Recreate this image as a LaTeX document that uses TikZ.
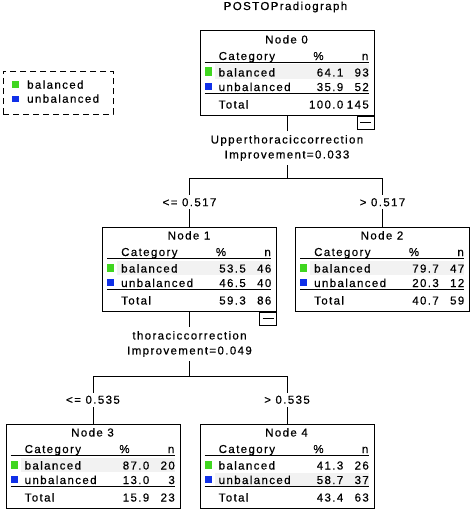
\documentclass[tikz,border=0pt]{standalone}
\usepackage{fontspec}
\setmainfont{Liberation Sans}[LetterSpace=12,FakeBold=0.5]
\usepackage{tikz}
\usetikzlibrary{calc,positioning}

\definecolor{balgreen}{RGB}{64,214,32}
\definecolor{unbblue}{RGB}{16,48,232}
\definecolor{rowgray}{RGB}{242,242,242}

\tikzset{
  treebox/.style={draw,line width=1pt,minimum width=174pt,minimum height=84pt,inner sep=0},
  txt/.style={inner sep=0,font=\fontsize{11.5}{15}\selectfont},
  splitlabel/.style={txt,align=center,inner sep=4pt},
  cutlabel/.style={txt,fill=white,inner sep=3pt},
  collapse/.style={draw,line width=0.8pt,minimum width=17pt,minimum height=13pt,inner sep=0,anchor=north east},
}

% table inside a tree box: #1 box, #2 title, #3/#4 balanced, #5/#6 unbalanced, #7/#8 total, #9 shaded row
\newcommand{\nodetable}[9]{%
  \begin{scope}[shift={(#1.north west)}]
    \fill[rowgray] (15,{19+15*#9}) rectangle (169,{33+15*#9});
    \node[txt,anchor=base] (#1-title) at (87,13) {#2};
    \node[txt,anchor=base west] (#1-cat) at (19,29.5) {Category};
    \node[txt,anchor=base] (#1-pct) at (119,29.5) {\%};
    \node[txt,anchor=base east] (#1-n) at (169,29.5) {n};
    \draw[line width=0.8pt] (5,31.5) -- (169,31.5);
    \fill[balgreen] (5,37) rectangle (12,45);
    \node[txt,anchor=base west] (#1-b) at (19,46) {balanced};
    \node[txt,anchor=base east] (#1-bp) at (144,46) {#3};
    \node[txt,anchor=base east] (#1-bn) at (169.5,46) {#4};
    \fill[unbblue] (5,52) rectangle (12,59);
    \node[txt,anchor=base west] (#1-u) at (19,60.5) {unbalanced};
    \node[txt,anchor=base east] (#1-up) at (144,60.5) {#5};
    \node[txt,anchor=base east] (#1-un) at (169.5,60.5) {#6};
    \draw[line width=1.2pt] (5,63) -- (169,63);
    \node[txt,anchor=base west] (#1-t) at (19,78) {Total};
    \node[txt,anchor=base east] (#1-tp) at (144,78) {#7};
    \node[txt,anchor=base east] (#1-tn) at (169.5,78) {#8};
  \end{scope}}

\begin{document}
\begin{tikzpicture}[x=1pt,y=-1pt]
\useasboundingbox (0,0) rectangle (474,511);

% Title
\node[txt,anchor=base] (title) at (285.5,10) {POSTOPradiograph};

% Legend
\node[draw,line width=0.9pt,dash pattern=on 6pt off 4pt,minimum width=110pt,minimum height=43pt,inner sep=0] (legend) at (58,92.5) {};
\fill[balgreen] (12,81) rectangle (19,88);
\node[txt,anchor=base west] (legend-b) at (27,88.7) {balanced};
\fill[unbblue] (12,95.5) rectangle (19,102);
\node[txt,anchor=base west] (legend-u) at (27,102.7) {unbalanced};

% Tree boxes
\node[treebox] (n0) at (287,73) {};
\node[treebox] (n1) at (189.5,269) {};
\node[treebox] (n2) at (382.5,269) {};
\node[treebox] (n3) at (93,466) {};
\node[treebox] (n4) at (287,466) {};

\nodetable{n0}{Node 0}{64.1}{93}{35.9}{52}{100.0}{145}{1}
\nodetable{n1}{Node 1}{53.5}{46}{46.5}{40}{59.3}{86}{1}
\nodetable{n2}{Node 2}{79.7}{47}{20.3}{12}{40.7}{59}{1}
\nodetable{n3}{Node 3}{87.0}{20}{13.0}{3}{15.9}{23}{1}
\nodetable{n4}{Node 4}{41.3}{26}{58.7}{37}{43.4}{63}{2}

% Collapse buttons
\foreach \b/\m in {n0/m0,n1/m1} {
    \node[collapse] (\m) at (\b.south east) {};
    \draw[line width=0.8pt] ($(\m.west)+(3.5,0)$) -- ($(\m.east)+(-3.5,0)$);
}

% First split
\node[splitlabel] (sp0) at (287,148) {Upperthoraciccorrection\\Improvement=0.033};
\coordinate (j0) at (287,178);
\draw[line width=0.9pt] (n0.south) -- (sp0.north);
\draw[line width=0.9pt] (sp0.south) -- (j0);
\draw[line width=0.9pt] (n1.north |- j0) -- (n2.north |- j0);
\draw[line width=0.9pt] (n1.north |- j0) -- (n1.north) node[cutlabel,midway] (c1) {\textless= 0.517};
\draw[line width=0.9pt] (n2.north |- j0) -- (n2.north) node[cutlabel,midway] (c2) {\textgreater{} 0.517};

% Second split
\node[splitlabel] (sp1) at (189.5,344) {thoraciccorrection\\Improvement=0.049};
\coordinate (j1) at (189.5,376);
\draw[line width=0.9pt] (n1.south) -- (sp1.north);
\draw[line width=0.9pt] (sp1.south) -- (j1);
\draw[line width=0.9pt] (n3.north |- j1) -- (n4.north |- j1);
\draw[line width=0.9pt] (n3.north |- j1) -- (n3.north) node[cutlabel,midway] (c3) {\textless= 0.535};
\draw[line width=0.9pt] (n4.north |- j1) -- (n4.north) node[cutlabel,midway] (c4) {\textgreater{} 0.535};
\end{tikzpicture}
\end{document}
